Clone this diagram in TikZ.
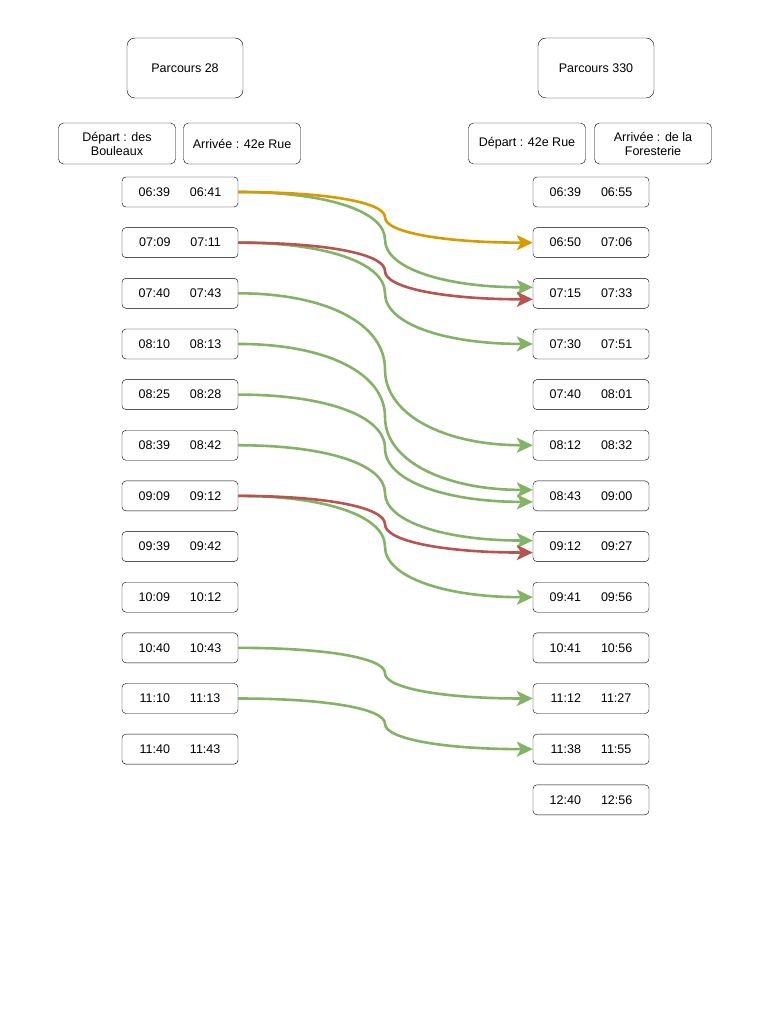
\documentclass[tikz,border=0pt]{standalone}
\usepackage{fontspec}
\setmainfont{Liberation Sans}
\usetikzlibrary{calc,arrows.meta,positioning}
\definecolor{lgreen}{HTML}{82B366}
\definecolor{lred}{HTML}{B85450}
\definecolor{lorange}{HTML}{D79B00}
\tikzset{
  tbox/.style={draw, rounded corners=4pt, minimum width=116pt, minimum height=30pt, inner sep=0pt, font=\fontsize{12.5}{14}\selectfont},
  hbox/.style={draw, rounded corners=8pt, minimum width=116pt, minimum height=60pt, align=center, font=\fontsize{12.5}{14}\selectfont},
  sbox/.style={draw, rounded corners=5pt, minimum width=117pt, minimum height=41pt, align=center, font=\fontsize{12.5}{14}\selectfont},
  lnk/.style={line width=2.6pt, -{Stealth[length=16pt,width=15pt,inset=4pt]}},
}
% connector: colour, from, to, end shift
\newcommand\conn[4]{%
  \coordinate (m) at ($(#2.east)!.5!(#3.west)+(0,#4/2)$);
  \coordinate (e) at ($(#3.west)+(0,#4)$);
  \draw[lnk, #1] (#2.east) .. controls ($(#2.east)!.6!(mx |- #2.east)$)
      and ($(mx |- m)!.6!(mx |- #2.east)$) .. (mx |- m)
    .. controls ($(mx |- m)!.6!(mx |- e)$) and ($(e)!.6!(mx |- e)$) .. (e);}
\begin{document}
\begin{tikzpicture}[x=1pt,y=1pt]
  \useasboundingbox (0,0) rectangle (768,-1024);
  \coordinate (mx) at (385,0);

  %% === Headers ===
  \node[hbox] (p28) at (185,-68) {Parcours 28};
  \node[hbox] (p330) at (596,-68) {Parcours 330};
  \node[sbox] (dl) at (117,-143.5) {Départ : des\\Bouleaux};
  \node[sbox] (al) at (242,-143.5) {Arrivée : 42e Rue};
  \node[sbox] (dr) at (527,-143.5) {Départ : 42e Rue};
  \node[sbox] (ar) at (653,-143.5) {Arrivée : de la\\Foresterie};

  %% === Timetables ===
  \foreach \t [count=\i from 0] in {06:39/06:41,07:09/07:11,07:40/07:43,08:10/08:13,
      08:25/08:28,08:39/08:42,09:09/09:12,09:39/09:42,10:09/10:12,10:40/10:43,
      11:10/11:13,11:40/11:43}
    {\pgfmathsetmacro\yy{-192-50.65*\i}
     \foreach \a/\b in \t
       \node[tbox] (l\i) at (180,\yy) {\a\hspace{20pt}\b};}
  \foreach \t [count=\i from 0] in {06:39/06:55,06:50/07:06,07:15/07:33,07:30/07:51,
      07:40/08:01,08:12/08:32,08:43/09:00,09:12/09:27,09:41/09:56,10:41/10:56,
      11:12/11:27,11:38/11:55,12:40/12:56}
    {\pgfmathsetmacro\yy{-192-50.65*\i}
     \foreach \a/\b in \t
       \node[tbox] (r\i) at (591,\yy) {\a\hspace{20pt}\b};}

  %% === Connections ===
  \conn{lgreen}{l0}{r2}{6}
  \conn{lorange}{l0}{r1}{0}
  \conn{lgreen}{l1}{r3}{0}
  \conn{lred}{l1}{r2}{-6}
  \conn{lgreen}{l2}{r5}{0}
  \conn{lgreen}{l3}{r6}{6}
  \conn{lgreen}{l4}{r6}{-6}
  \conn{lgreen}{l5}{r7}{6}
  \conn{lgreen}{l6}{r8}{0}
  \conn{lred}{l6}{r7}{-6}
  \conn{lgreen}{l9}{r10}{0}
  \conn{lgreen}{l10}{r11}{0}
\end{tikzpicture}
\end{document}
